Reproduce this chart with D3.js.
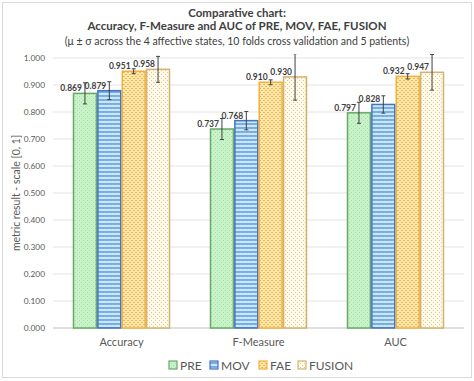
<!DOCTYPE html>
<html>
<head>
<meta charset="utf-8">
<script src="https://cdn.jsdelivr.net/npm/d3@7"></script>
<style>
  body { margin: 0; background: #fff; }
  text { font-family: Lato, "Open Sans", sans-serif; }
</style>
</head>
<body>
<svg width="474" height="381"></svg>
<script>
// chart data
var categories = ["Accuracy", "F-Measure", "AUC"];
var series = ["PRE", "MOV", "FAE", "FUSION"];
var pre = [0.869, 0.737, 0.797];
var preSd = [0.039, 0.039, 0.039];
var mov = [0.879, 0.768, 0.828];
var movSd = [0.033, 0.034, 0.032];
var fae = [0.951, 0.910, 0.932];
var faeSd = [0.009, 0.009, 0.010];
var fusion = [0.958, 0.930, 0.947];
var fusionSd = [0.048, 0.086, 0.066];
var yTicks = [0, 0.1, 0.2, 0.3, 0.4, 0.5, 0.6, 0.7, 0.8, 0.9, 1.0];

var values = [pre, mov, fae, fusion];
var sds = [preSd, movSd, faeSd, fusionSd];

var margin = {top: 58, right: 10, bottom: 53, left: 53},
    width = 474 - margin.left - margin.right,
    height = 381 - margin.top - margin.bottom;

var svg = d3.select("svg");

// frame
svg.append("rect")
    .attr("x", 2.5).attr("y", 2.5)
    .attr("width", 469).attr("height", 375)
    .attr("fill", "#fff")
    .attr("stroke", "#d9d9d9");

// patterns
var defs = svg.append("defs");
function pat(id, w, h, bg) {
  var p = defs.append("pattern").attr("id", id)
      .attr("patternUnits", "userSpaceOnUse")
      .attr("width", w).attr("height", h);
  p.append("rect").attr("width", w).attr("height", h).attr("fill", bg);
  return p;
}
var pPre = pat("p-pre", 4, 4, "#c8f2c8");
pPre.append("rect").attr("x", 0).attr("y", 0).attr("width", 1).attr("height", 1).attr("fill", "#a6dca6");
pPre.append("rect").attr("x", 2).attr("y", 2).attr("width", 1).attr("height", 1).attr("fill", "#a6dca6");

var pMov = pat("p-mov", 4, 4, "#c4e9f8");
pMov.append("path").attr("d", "M0,3 L1,1 L2,3 L3,1 L4,3")
    .attr("fill", "none").attr("stroke", "#5b8bd8").attr("stroke-width", 0.8);

var pFae = pat("p-fae", 4, 4, "#ffe9a8");
pFae.append("rect").attr("x", 0).attr("y", 0).attr("width", 2).attr("height", 1).attr("fill", "#f2b45c");
pFae.append("rect").attr("x", 2).attr("y", 2).attr("width", 2).attr("height", 1).attr("fill", "#f2b45c");

var pFus = pat("p-fus", 4, 4, "#fffaec");
pFus.append("rect").attr("x", 0).attr("y", 0).attr("width", 1).attr("height", 1).attr("fill", "#e6c884");
pFus.append("rect").attr("x", 2).attr("y", 2).attr("width", 1).attr("height", 1).attr("fill", "#e6c884");

var fills = ["url(#p-pre)", "url(#p-mov)", "url(#p-fae)", "url(#p-fus)"];
var strokes = ["#6aa86a", "#4472c4", "#f0b040", "#d2b272"];

defs.append("clipPath").attr("id", "plotclip")
  .append("rect").attr("x", 0).attr("y", -4).attr("width", width).attr("height", height + 4);

var g = svg.append("g")
    .attr("transform", "translate(" + margin.left + "," + margin.top + ")");

var x0 = d3.scaleBand().domain(categories).range([0, width]);
var x1 = d3.scaleBand().domain(series).range([-48, 48]).paddingInner(0.06);
var y = d3.scaleLinear().domain([0, 1]).range([height, 0]);

// grid
g.selectAll(".grid").data(yTicks).enter().append("line")
    .attr("x1", 0).attr("x2", width)
    .attr("y1", d => y(d)).attr("y2", d => y(d))
    .attr("stroke", d => d === 0 ? "#bfbfbf" : "#e3e3e3")
    .attr("stroke-width", d => d === 0 ? 1.2 : 1);

// y axis labels
var yAxis = g.append("g")
    .call(d3.axisLeft(y).tickValues(yTicks).tickFormat(d3.format(".3f")).tickSize(0).tickPadding(8));
yAxis.select(".domain").remove();
yAxis.selectAll("text").attr("fill", "#595959").style("font-size", "8.3px")
    .style("font-family", "Lato, sans-serif");

// x axis labels
var xAxis = g.append("g").attr("transform", "translate(0," + height + ")")
    .call(d3.axisBottom(x0).tickSize(0).tickPadding(10));
xAxis.select(".domain").remove();
xAxis.selectAll("text").attr("fill", "#595959").style("font-size", "11px")
    .style("font-family", "Lato, sans-serif");

// bars
var rows = [];
series.forEach(function(s, si) {
  categories.forEach(function(c, ci) {
    rows.push({s: s, si: si, c: c, v: values[si][ci], sd: sds[si][ci]});
  });
});

g.selectAll(".bar").data(rows).enter().append("rect")
    .attr("x", d => x0(d.c) + x0.bandwidth() / 2 + x1(d.s))
    .attr("y", d => y(d.v))
    .attr("width", x1.bandwidth())
    .attr("height", d => height - y(d.v))
    .attr("fill", d => fills[d.si])
    .attr("stroke", d => strokes[d.si])
    .attr("stroke-width", 1.5);

// error bars
var eg = g.append("g").attr("clip-path", "url(#plotclip)");
rows.forEach(function(d) {
  var cx = x0(d.c) + x0.bandwidth() / 2 + x1(d.s) + x1.bandwidth() / 2;
  var hi = y(d.v + d.sd), lo = y(d.v - d.sd);
  eg.append("line").attr("x1", cx).attr("x2", cx).attr("y1", hi).attr("y2", lo)
      .attr("stroke", "#404040").attr("stroke-width", 1);
  [hi, lo].forEach(function(yy) {
    eg.append("line").attr("x1", cx - 2).attr("x2", cx + 2).attr("y1", yy).attr("y2", yy)
        .attr("stroke", "#404040").attr("stroke-width", 1);
  });
});

// value labels
g.selectAll(".val").data(rows).enter().append("text")
    .attr("x", d => x0(d.c) + x0.bandwidth() / 2 + x1(d.s) + x1.bandwidth() / 2 - 3)
    .attr("y", d => y(d.v) - 2)
    .attr("text-anchor", "end")
    .attr("fill", "#404040")
    .style("font-size", "8.5px")
    .style("font-weight", "bold")
    .text(d => d3.format(".3f")(d.v));

// y title
svg.append("text")
    .attr("transform", "translate(20," + (margin.top + height / 2) + ") rotate(-90)")
    .attr("text-anchor", "middle")
    .attr("fill", "#595959")
    .style("font-size", "10.5px")
    .text("metric result - scale [0, 1]");

// chart title
var title = [
  {t: "Comparative chart:", y: 17, w: "bold", s: 11.5},
  {t: "Accuracy, F-Measure and AUC of PRE, MOV, FAE, FUSION", y: 30, w: "bold", s: 11.5},
  {t: "(\u03bc \u00b1 \u03c3 across the 4 affective states, 10 folds cross validation and 5 patients)", y: 45, w: "normal", s: 10.5}
];
svg.selectAll(".title").data(title).enter().append("text")
    .attr("x", 237).attr("y", d => d.y)
    .attr("text-anchor", "middle")
    .attr("fill", "#404040")
    .style("font-size", d => d.s + "px")
    .style("font-weight", d => d.w)
    .text(d => d.t);

// legend
var legX = [169, 210, 259, 298];
var leg = svg.selectAll(".leg").data(series).enter().append("g")
    .attr("transform", (d, i) => "translate(" + legX[i] + ",361)");
leg.append("rect").attr("width", 8).attr("height", 8)
    .attr("fill", (d, i) => fills[i]).attr("stroke", (d, i) => strokes[i]).attr("stroke-width", 1.2);
leg.append("text").attr("x", 11).attr("y", 8.5)
    .attr("fill", "#595959").style("font-size", "12px").text(d => d);
</script>
</body>
</html>
